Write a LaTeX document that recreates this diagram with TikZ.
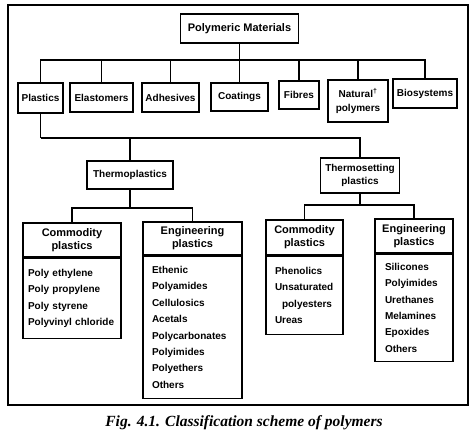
\documentclass[tikz,border=0pt]{standalone}
\usepackage{fontspec}
\setmainfont{Liberation Sans}
\newfontfamily\capfont{Liberation Serif}
\usetikzlibrary{positioning}

\begin{document}
\begin{tikzpicture}[x=1pt, y=-1pt, line width=1.3pt,
  box/.style={draw, align=center, inner sep=1pt, font=\bfseries\fontsize{10}{13.5}\selectfont},
  head/.style={draw, align=center, inner sep=1pt, font=\bfseries\fontsize{11}{13}\selectfont},
  list/.style={draw, align=left, anchor=north, inner xsep=8pt, inner ysep=0pt, font=\bfseries\fontsize{10}{16.4}\selectfont}]

  \useasboundingbox (0,0) rectangle (474,445);
  \draw (8,5) rectangle (468,405);

  \node[head, minimum width=118, minimum height=29] (PM) at (239.5,28.5) {Polymeric Materials};

  % second row
  \node[box, minimum width=45, minimum height=30] (Pl) at (40.5,98) {Plastics};
  \node[box, minimum width=63, minimum height=29] (El) at (101.5,97.5) {Elastomers};
  \node[box, minimum width=57, minimum height=29] (Ad) at (170.5,97.5) {Adhesives};
  \node[box, minimum width=57, minimum height=28] (Co) at (239.5,97) {Coatings};
  \node[box, minimum width=40, minimum height=28] (Fi) at (299,95) {Fibres};
  \node[box, minimum width=60, minimum height=42] (Na) at (358,101) {Natural\textsuperscript{\textdagger}\\polymers};
  \node[box, minimum width=64, minimum height=29] (Bi) at (425,93.5) {Biosystems};

  \node[box, minimum width=86, minimum height=28] (TP) at (130,175) {Thermoplastics};
  \node[box, minimum width=79, minimum height=35] (TS) at (360,175.5) {Thermosetting\\plastics};

  % thermoplastics
  \node[head, minimum width=98, minimum height=34] (CLh) at (72,240) {Commodity\\plastics};
  \node[list, text width=88, inner xsep=5pt, minimum height=80] (CL) at (CLh.south) {Poly ethylene\\Poly propylene\\Poly styrene\\Polyvinyl chloride};
  \node[head, minimum width=99, minimum height=33] (ELh) at (192.5,238.5) {Engineering\\plastics};
  \node[list, text width=81, inner xsep=9pt, minimum height=142] (EL) at (ELh.south) {Ethenic\\Polyamides\\Cellulosics\\Acetals\\Polycarbonates\\Polyimides\\Polyethers\\Others};

  % thermosetting plastics
  \node[head, minimum width=77, minimum height=35] (CRh) at (304.5,237.5) {Commodity\\plastics};
  \node[list, text width=59, inner xsep=9pt, minimum height=78] (CR) at (CRh.south) {Phenolics\\Unsaturated\\\hspace*{7pt}polyesters\\Ureas};
  \node[head, minimum width=78, minimum height=34] (ERh) at (414,236) {Engineering\\plastics};
  \node[list, text width=58, inner xsep=10pt, minimum height=107] (ER) at (ERh.south) {Silicones\\Polyimides\\Urethanes\\Melamines\\Epoxides\\Others};

  % connectors
  \coordinate (bus) at (239.5,60);
  \draw (PM.south) -- (bus);
  \foreach \n in {Pl,El,Ad,Co,Fi,Na,Bi}
    \draw (bus) -| (\n.north);

  \coordinate (pbus) at (40.5,138);
  \draw (Pl.south) -- (pbus);
  \draw (pbus) -| (TP.north);
  \draw (pbus) -| (TS.north);

  \coordinate (tpbus) at (130,208);
  \draw (TP.south) -- (tpbus);
  \draw (tpbus) -| (CLh.north);
  \draw (tpbus) -| (ELh.north);

  \coordinate (tsbus) at (360,205);
  \draw (TS.south) -- (tsbus);
  \draw (tsbus) -| (CRh.north);
  \draw (tsbus) -| (ERh.north);

  \node[font=\capfont\bfseries\itshape\fontsize{15.5}{17}\selectfont] (cap) at (244,423) {Fig. 4.1. Classification scheme of polymers};
\end{tikzpicture}
\end{document}
